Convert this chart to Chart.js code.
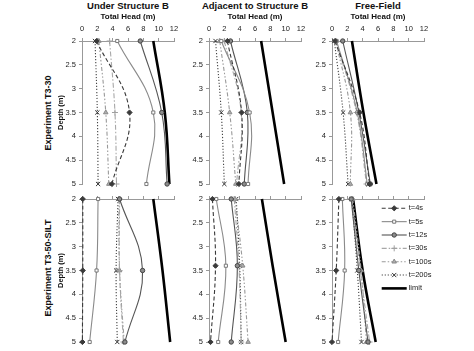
<!DOCTYPE html>
<html>
<head>
<meta charset="utf-8">
<script src="https://cdn.jsdelivr.net/npm/chart.js@4.4.1/dist/chart.umd.min.js"></script>
<style>
  body { margin: 0; background: #fff; }
  #wrap { position: relative; width: 474px; height: 351px; overflow: hidden; font-family: "Liberation Sans", Arial, sans-serif; color: #111; }
  #wrap canvas { position: absolute; }
  .ttl { position: absolute; font-weight: bold; font-size: 9.5px; white-space: nowrap; transform: translate(-50%, -50%); }
  .row { position: absolute; font-weight: bold; font-size: 9px; white-space: nowrap; transform: translate(-50%, -50%) rotate(-90deg); }
</style>
</head>
<body>
<div id="wrap">
  <div class="ttl" style="left:128px;top:5px">Under Structure B</div>
  <div class="ttl" style="left:255px;top:5px">Adjacent to Structure B</div>
  <div class="ttl" style="left:378px;top:5px">Free-Field</div>
  <div class="row" style="left:48px;top:113px">Experiment T3-30</div>
  <div class="row" style="left:48px;top:268px">Experiment T3-50-SILT</div>
  <canvas id="c1"></canvas><canvas id="c2"></canvas><canvas id="c3"></canvas>
  <canvas id="c4"></canvas><canvas id="c5"></canvas><canvas id="c6"></canvas>
</div>
<script>
// series / axes
const seriesLabels = ['t=4s', 't=5s', 't=12s', 't=30s', 't=100s', 't=200s', 'limit'];
const headTicks = [0, 2, 4, 6, 8, 10, 12];
const depthTicks = [2, 2.5, 3, 3.5, 4, 4.5, 5];
const depths = [2, 3.5, 5];
const depthsAdjSilt = [2, 3.4, 5];

// total head (m) at each depth, one row per series (same order as seriesLabels)
const underT330 = [
  [1.9, 6.2, 3.9],
  [4.6, 9.3, 8.4],
  [7.6, 10.4, 11.1],
  [3.6, 4.3, 4.5],
  [2.2, 3.1, 3.5],
  [1.7, 2.0, 2.1],
  [9.3, 10.8, 11.4]
];
const adjT330 = [
  [2.4, 4.25, 3.9],
  [1.6, 5.3, 5.1],
  [2.8, 5.0, 4.6],
  [2.0, 4.2, 3.6],
  [1.4, 2.7, 3.5],
  [0.85, 1.6, 2.0],
  [6.8, 8.3, 9.8]
];
const freeT330 = [
  [0.4, 3.6, 4.9],
  [0.6, 3.3, 4.6],
  [1.4, 3.5, 5.0],
  [0.5, 3.2, 4.5],
  [0.5, 2.4, 2.4],
  [0.3, 1.45, 2.1],
  [2.6, 4.1, 5.8]
];
const underSilt = [
  [0.1, 0.1, 0.05],
  [2.1, 1.9, 1.0],
  [4.9, 7.9, 5.6],
  [4.9, 4.9, 5.4],
  [4.8, 4.9, 5.5],
  [4.7, 4.45, 4.6],
  [9.3, 10.5, 11.5]
];
const adjSilt = [
  [0.45, 0.85, 0.2],
  [0.95, 2.2, 1.2],
  [2.9, 3.7, 2.9],
  [3.3, 3.9, 4.2],
  [3.4, 4.4, 5.1],
  [3.55, 4.0, 4.2],
  [6.9, 8.3, 10.0]
];
const freeSilt = [
  [0.9, 0.55, 0.0],
  [1.35, 1.65, 0.8],
  [2.5, 3.5, 4.7],
  [2.6, 3.7, 4.9],
  [2.7, 3.8, 4.5],
  [2.6, 3.3, 3.85],
  [2.75, 4.0, 5.7]
];

const seriesStyles = [
  { color: '#3a3a3a', dash: [4, 2.5], width: 1.1, point: 'rectRot', radius: 2.6, fill: '#3a3a3a', border: '#3a3a3a' },
  { color: '#8a8a8a', dash: [], width: 1.1, point: 'rect', radius: 2.2, fill: '#ffffff', border: '#777777' },
  { color: '#555555', dash: [], width: 1.1, point: 'circle', radius: 2.2, fill: '#8c8c8c', border: '#444444' },
  { color: '#a8a8a8', dash: [5, 2, 1.5, 2], width: 1.1, point: 'cross', radius: 3, fill: '#a0a0a0', border: '#a0a0a0' },
  { color: '#9a9a9a', dash: [4, 2, 1.5, 2, 1.5, 2], width: 1.1, point: 'triangle', radius: 2.6, fill: '#b0b0b0', border: '#888888' },
  { color: '#444444', dash: [1.2, 1.8], width: 1.1, point: 'crossRot', radius: 3, fill: '#333333', border: '#333333' },
  { color: '#000000', dash: [], width: 2.6, point: false, radius: 0, fill: '#000000', border: '#000000' }
];

const FONT = '"Liberation Sans", Arial, sans-serif';
Chart.defaults.font.family = FONT;
Chart.defaults.color = '#222';

const colLeft = [82, 209, 332];
const plotW = 92;
const rowGeo = [
  { top: 0, height: 192, padTop: 12, xH: 29, padBottom: 8, xLabels: true },
  { top: 188, height: 163, padTop: 0, xH: 11, padBottom: 9, xLabels: false }
];

const panels = [
  { id: 'c1', col: 0, row: 0, data: underT330, depths: depths, yTitle: true },
  { id: 'c2', col: 1, row: 0, data: adjT330, depths: depths },
  { id: 'c3', col: 2, row: 0, data: freeT330, depths: depths },
  { id: 'c4', col: 0, row: 1, data: underSilt, depths: depths, yTitle: true },
  { id: 'c5', col: 1, row: 1, data: adjSilt, depths: depthsAdjSilt },
  { id: 'c6', col: 2, row: 1, data: freeSilt, depths: depths, legend: true }
];

// legend drawn inside the bottom-right panel, Excel style (line sample with marker)
const sideLegend = {
  id: 'sideLegend',
  afterDraw(chart) {
    const ctx = chart.ctx;
    const x0 = 89.7, x1 = 114.7, y0 = 20.3, step = 13.35;
    ctx.save();
    chart.data.datasets.forEach((ds, i) => {
      const s = seriesStyles[i];
      const y = y0 + i * step;
      ctx.strokeStyle = s.color;
      ctx.lineWidth = s.width;
      ctx.setLineDash(s.dash);
      ctx.beginPath();
      ctx.moveTo(x0, y);
      ctx.lineTo(x1, y);
      ctx.stroke();
      ctx.setLineDash([]);
      if (s.point) {
        ctx.fillStyle = s.fill;
        ctx.strokeStyle = s.border;
        ctx.lineWidth = 1;
        Chart.helpers.drawPoint(ctx, { pointStyle: s.point, radius: s.radius, borderWidth: 1, rotation: 0 }, (x0 + x1) / 2, y);
      }
      ctx.fillStyle = '#222';
      ctx.font = '7.5px ' + FONT;
      ctx.textBaseline = 'middle';
      ctx.textAlign = 'left';
      ctx.fillText(ds.label, x1 + 2, y);
    });
    ctx.restore();
  }
};

panels.forEach(p => {
  const g = rowGeo[p.row];
  const cv = document.getElementById(p.id);
  const w = 40 + plotW + 14;
  cv.width = w; cv.height = g.height;
  cv.style.left = (colLeft[p.col] - 40) + 'px';
  cv.style.top = g.top + 'px';

  new Chart(cv, {
    type: 'line',
    data: {
      datasets: seriesLabels.map((lab, i) => {
        const s = seriesStyles[i];
        return {
          label: lab,
          data: p.depths.map((d, j) => ({ x: p.data[i][j], y: d })),
          borderColor: s.color,
          borderWidth: s.width,
          borderDash: s.dash,
          pointStyle: s.point,
          pointRadius: s.radius,
          pointBackgroundColor: s.fill,
          pointBorderColor: s.border,
          pointBorderWidth: 1,
          tension: 0.4,
          fill: false,
          clip: false
        };
      })
    },
    options: {
      indexAxis: 'y',
      responsive: false,
      animation: false,
      devicePixelRatio: 1,
      layout: { padding: { left: 14, right: 14, top: g.padTop, bottom: g.padBottom } },
      plugins: { legend: { display: false }, tooltip: { enabled: false } },
      scales: {
        x: {
          type: 'linear', position: 'top', min: 0, max: 12,
          afterBuildTicks: sc => { sc.ticks = headTicks.map(v => ({ value: v })); },
          afterFit: sc => { sc.height = g.xH; },
          grid: { drawOnChartArea: false, tickLength: 3, color: '#999' },
          border: { color: '#999' },
          ticks: { display: g.xLabels, padding: 4.5, font: { size: 7.5 }, maxRotation: 0, callback: v => String(v) },
          title: { display: g.xLabels, text: 'Total Head (m)', padding: 0, font: { size: 8, weight: 'bold' }, color: '#111' }
        },
        y: {
          type: 'linear', reverse: true, min: 2, max: 5,
          afterBuildTicks: sc => { sc.ticks = depthTicks.map(v => ({ value: v })); },
          afterFit: sc => { sc.width = 26; },
          grid: { drawOnChartArea: false, tickLength: 3, color: '#999' },
          border: { color: '#999' },
          ticks: { padding: 3, font: { size: 7.5 }, callback: v => String(v) },
          title: { display: !!p.yTitle, text: 'Depth (m)', padding: 0, font: { size: 7.5, weight: 'bold' }, color: '#111' }
        }
      }
    },
    plugins: p.legend ? [sideLegend] : []
  });
});
</script>
</body>
</html>
